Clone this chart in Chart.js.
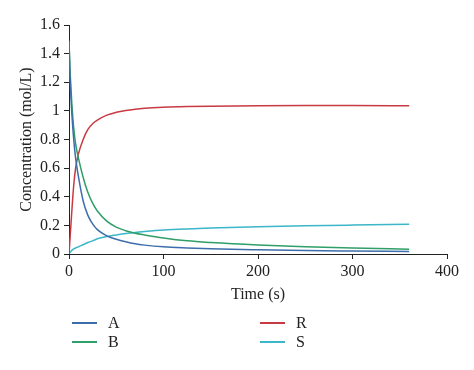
<!DOCTYPE html>
<html>
<head>
<meta charset="utf-8">
<script src="https://cdn.jsdelivr.net/npm/chart.js@4.4.1/dist/chart.umd.min.js"></script>
<style>
  body { margin: 0; background: #fff; }
  #wrap { position: relative; width: 474px; height: 370px; }
  #legend { position: absolute; left: 72px; top: 314px; width: 380px; font-family: "Liberation Serif", serif; font-size: 16px; color: #222; }
  .item { position: absolute; display: flex; align-items: center; }
  .swatch { width: 25px; height: 2px; margin-right: 11px; }
</style>
</head>
<body>
<div id="wrap">
  <canvas id="chart" width="474" height="370"></canvas>
  <div id="legend"></div>
</div>
<script>
// Time points (s)
const times = [0, 1, 2, 3, 5, 7, 10, 15, 20, 25, 30, 40, 50, 60, 70, 80, 100, 125, 150, 200, 250, 300, 360];

// Concentrations (mol/L)
const seriesA = [1.49, 1.25, 1.1, 0.98, 0.8, 0.67, 0.54, 0.37, 0.27, 0.21, 0.17, 0.127, 0.103, 0.085, 0.071, 0.062, 0.05, 0.042, 0.036, 0.029, 0.024, 0.021, 0.018];
const seriesB = [1.49, 1.3, 1.17, 1.05, 0.88, 0.77, 0.67, 0.535, 0.43, 0.355, 0.3, 0.23, 0.188, 0.163, 0.145, 0.133, 0.112, 0.092, 0.08, 0.063, 0.051, 0.042, 0.034];
const seriesR = [0, 0.1, 0.2, 0.3, 0.48, 0.6, 0.7, 0.8, 0.87, 0.91, 0.935, 0.97, 0.99, 1.003, 1.012, 1.018, 1.025, 1.03, 1.033, 1.036, 1.037, 1.037, 1.036];
const seriesS = [0, 0.01, 0.018, 0.025, 0.035, 0.042, 0.05, 0.065, 0.08, 0.092, 0.106, 0.122, 0.133, 0.143, 0.151, 0.157, 0.167, 0.175, 0.181, 0.19, 0.197, 0.202, 0.207];

const yTicks = [0, 0.2, 0.4, 0.6, 0.8, 1, 1.2, 1.4, 1.6];
const xTicks = [0, 100, 200, 300, 400];

const names = ['A', 'B', 'R', 'S'];
const colors = ['#3d6eab', '#2f9e68', '#c73a44', '#3cb6c8'];
const values = [seriesA, seriesB, seriesR, seriesS];

function toPoints(vals) {
    return times.map(function (t, i) { return { x: t, y: vals[i] }; });
}

const datasets = names.map(function (name, i) {
    return {
        label: name,
        data: toPoints(values[i]),
        borderColor: colors[i],
        backgroundColor: colors[i],
        borderWidth: 1.5,
        pointRadius: 0,
        cubicInterpolationMode: 'monotone',
        fill: false
    };
});

const font = { family: '"Liberation Serif", serif', size: 16 };
const axisColor = '#222';

new Chart(document.getElementById('chart'), {
    type: 'line',
    data: { datasets: datasets },
    options: {
        responsive: false,
        animation: false,
        layout: { padding: { left: 17, right: 27, top: 25, bottom: 66 } },
        plugins: { legend: { display: false }, tooltip: { enabled: false } },
        scales: {
            x: {
                type: 'linear',
                min: 0,
                max: 400,
                afterBuildTicks: function (scale) { scale.ticks = xTicks.map(function (v) { return { value: v }; }); },
                afterFit: function (scale) { scale.height = 50; },
                grid: { drawOnChartArea: false, color: axisColor, tickLength: 5 },
                border: { color: axisColor, width: 1 },
                ticks: { color: axisColor, font: font, padding: 3, maxRotation: 0, callback: function (v) { return String(v); } },
                title: { display: true, text: 'Time (s)', color: axisColor, font: font, padding: { top: 0, bottom: 0 } }
            },
            y: {
                min: 0,
                max: 1.6,
                afterBuildTicks: function (scale) { scale.ticks = yTicks.map(function (v) { return { value: v }; }); },
                afterFit: function (scale) { scale.width = 52; },
                grid: { drawOnChartArea: false, color: axisColor, tickLength: 5 },
                border: { color: axisColor, width: 1 },
                ticks: { color: axisColor, font: font, padding: 4, callback: function (v) { return String(+v.toFixed(1)); } },
                title: { display: true, text: 'Concentration (mol/L)', color: axisColor, font: font, padding: { top: 0, bottom: 0 } }
            }
        }
    }
});

// Legend: two columns (A, B | R, S)
const legendEl = document.getElementById('legend');
const slots = { A: [0, 0], B: [0, 19], R: [188, 0], S: [188, 19] };
names.forEach(function (name, i) {
    const item = document.createElement('div');
    item.className = 'item';
    item.style.left = slots[name][0] + 'px';
    item.style.top = slots[name][1] + 'px';
    const sw = document.createElement('span');
    sw.className = 'swatch';
    sw.style.background = colors[i];
    const label = document.createElement('span');
    label.textContent = name;
    item.appendChild(sw);
    item.appendChild(label);
    legendEl.appendChild(item);
});
</script>
</body>
</html>
